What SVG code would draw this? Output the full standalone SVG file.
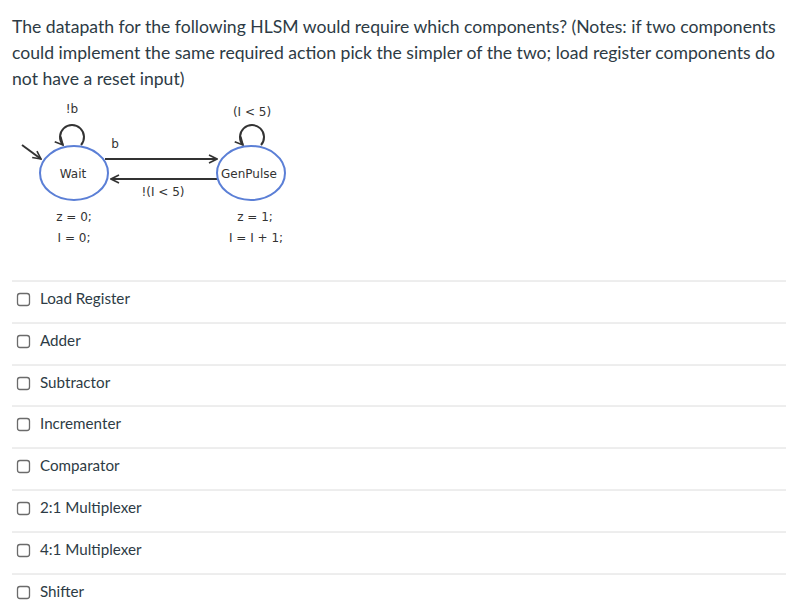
<svg xmlns="http://www.w3.org/2000/svg" width="800" height="611" viewBox="0 0 800 611">
<style>
.q{font-family:Lato,"Liberation Sans",sans-serif;font-size:17.6px;fill:#2d3b45}
.opt{font-family:Lato,"Liberation Sans",sans-serif;font-size:15.2px;fill:#2d3b45}
.sep{stroke:#dcdcdc;stroke-width:1}
.cb{fill:#fff;stroke:#6b6b6b;stroke-width:1.3}
.st{fill:#fff;stroke:#5b7fd6;stroke-width:2}
.lb{font-family:"DejaVu Sans",sans-serif;font-size:12px;fill:#333;text-anchor:middle}
.ed{fill:none;stroke:#333;stroke-width:2}
</style>
<defs>
<marker id="ah" viewBox="0 0 10 10" refX="9" refY="5" markerWidth="5" markerHeight="5" orient="auto-start-reverse">
<path d="M1,1 L9,5 L1,9" fill="none" stroke="#333" stroke-width="1.6"/>
</marker>
</defs>
<rect width="800" height="611" fill="#fff"/>
<text class="q" x="12" y="33">The datapath for the following HLSM would require which components? (Notes: if two components</text>
<text class="q" x="12" y="59">could implement the same required action pick the simpler of the two; load register components do</text>
<text class="q" x="12" y="85">not have a reset input)</text>

<g id="connectors">
<path class="ed" d="M22,145 L41,159" marker-end="url(#ah)"/>
<path class="ed" d="M81,145 A12,12 0 1 0 63,145" marker-end="url(#ah)"/>
<path class="ed" d="M261,145 A12,12 0 1 0 243,145" marker-end="url(#ah)"/>
<path class="ed" d="M105,159 L217,159" marker-end="url(#ah)"/>
<path class="ed" d="M218,179 L111,179" marker-end="url(#ah)"/>
</g>
<g id="wait">
<ellipse class="st" cx="74" cy="173" rx="34" ry="27"/>
<text class="lb" x="73" y="178">Wait</text>
</g>
<g id="genpulse">
<ellipse class="st" cx="251" cy="173" rx="34" ry="27"/>
<text class="lb" x="249" y="178">GenPulse</text>
</g>
<g id="labels">
<text class="lb" x="72" y="113">!b</text>
<text class="lb" x="252" y="116">(I &lt; 5)</text>
<text class="lb" x="115" y="148">b</text>
<text class="lb" x="163" y="196">!(I &lt; 5)</text>
<text class="lb" x="74" y="221">z = 0;</text>
<text class="lb" x="74" y="242">I = 0;</text>
<text class="lb" x="255" y="221">z = 1;</text>
<text class="lb" x="256" y="242">I = I + 1;</text>
</g>

<g id="options">
<line class="sep" x1="12" y1="281" x2="786" y2="281"/>
<line class="sep" x1="12" y1="323" x2="786" y2="323"/>
<line class="sep" x1="12" y1="365" x2="786" y2="365"/>
<line class="sep" x1="12" y1="406" x2="786" y2="406"/>
<line class="sep" x1="12" y1="448" x2="786" y2="448"/>
<line class="sep" x1="12" y1="490" x2="786" y2="490"/>
<line class="sep" x1="12" y1="532" x2="786" y2="532"/>
<line class="sep" x1="12" y1="574" x2="786" y2="574"/>
<rect class="cb" x="17.5" y="293.5" width="12" height="12" rx="2.5"/>
<text class="opt" x="40" y="304">Load Register</text>
<rect class="cb" x="17.5" y="335.5" width="12" height="12" rx="2.5"/>
<text class="opt" x="40" y="346">Adder</text>
<rect class="cb" x="17.5" y="377.5" width="12" height="12" rx="2.5"/>
<text class="opt" x="40" y="388">Subtractor</text>
<rect class="cb" x="17.5" y="418.5" width="12" height="12" rx="2.5"/>
<text class="opt" x="40" y="429">Incrementer</text>
<rect class="cb" x="17.5" y="460.5" width="12" height="12" rx="2.5"/>
<text class="opt" x="40" y="471">Comparator</text>
<rect class="cb" x="17.5" y="502.5" width="12" height="12" rx="2.5"/>
<text class="opt" x="40" y="513">2:1 Multiplexer</text>
<rect class="cb" x="17.5" y="544.5" width="12" height="12" rx="2.5"/>
<text class="opt" x="40" y="555">4:1 Multiplexer</text>
<rect class="cb" x="17.5" y="586.5" width="12" height="12" rx="2.5"/>
<text class="opt" x="40" y="597">Shifter</text>
</g>
</svg>
